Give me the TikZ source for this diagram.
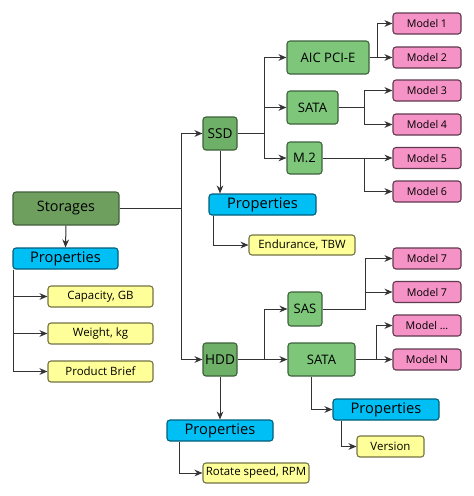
\documentclass[tikz,border=0pt]{standalone}
\usepackage{fontspec}
\setmainfont{Open Sans}
\usetikzlibrary{arrows.meta}
\definecolor{cStor}{HTML}{6E9F5F}
\definecolor{cDrive}{HTML}{6FB068}
\definecolor{cIf}{HTML}{7DC67A}
\definecolor{cProp}{HTML}{00BFF5}
\definecolor{cYel}{HTML}{FFFF99}
\definecolor{cPink}{HTML}{F592C6}
\definecolor{cLine}{HTML}{333333}
\tikzset{
  sz/.style 2 args={minimum width=#1*0.75pt, minimum height=#2*0.75pt},
  base/.style={draw, rounded corners=2.2pt, inner sep=0pt, line width=0.8pt, anchor=center},
  stor/.style={base, fill=cStor, draw=cStor!60!black, font=\fontsize{10.8}{12}\selectfont},
  drive/.style={base, fill=cDrive, draw=cDrive!55!black, font=\fontsize{10.2}{12}\selectfont},
  iface/.style={base, fill=cIf, draw=cIf!50!black, font=\fontsize{9.8}{12}\selectfont},
  prop/.style={base, fill=cProp, draw=cProp!50!black, font=\fontsize{11}{12}\selectfont},
  attr/.style={base, fill=cYel, draw=cYel!45!black, font=\fontsize{8.6}{10}\selectfont},
  model/.style={base, fill=cPink, draw=cPink!40!black, font=\fontsize{8}{10}\selectfont},
  conn/.style={draw=cLine, line width=0.75pt},
  arr/.style={conn, -{Stealth[length=6pt, width=5pt]}},
}
\begin{document}
\begin{tikzpicture}[x=0.75pt, y=-0.75pt]
\useasboundingbox[fill=white] (0,0) rectangle (474,496);
% nodes
\node[stor, sz={106}{33}] (stor) at (66,208.5) {Storages};
\node[prop, sz={105}{21}] (p0) at (65.5,258.5) {Properties};
\node[attr, sz={105}{21}] (cap) at (100.5,296.5) {Capacity, GB};
\node[attr, sz={105}{21}] (wt) at (100.5,333.5) {Weight, kg};
\node[attr, sz={105}{21}] (brief) at (100.5,371.5) {Product Brief};

\node[drive, sz={34}{33}] (ssd) at (220,133.5) {SSD};
\node[iface, sz={82}{33}] (aic) at (328,57.5) {AIC PCI-E};
\node[iface, sz={51}{33}] (sataA) at (312.5,107.5) {SATA};
\node[iface, sz={35}{32}] (mtwo) at (304.5,158) {M.2};
\node[model, sz={68}{21}] (m1) at (427,23.5) {Model 1};
\node[model, sz={68}{21}] (m2) at (427,57.5) {Model 2};
\node[model, sz={68}{21}] (m3) at (427,90.5) {Model 3};
\node[model, sz={68}{21}] (m4) at (427,124.5) {Model 4};
\node[model, sz={68}{21}] (m5) at (427,158) {Model 5};
\node[model, sz={68}{21}] (m6) at (427,191.5) {Model 6};
\node[prop, sz={107}{21}] (p1) at (262.5,204.5) {Properties};
\node[attr, sz={106}{20}] (endu) at (302,245) {Endurance, TBW};

\node[drive, sz={34}{33}] (hdd) at (220,359.5) {HDD};
\node[iface, sz={34}{34}] (sas) at (305,309) {SAS};
\node[iface, sz={67}{33}] (sataB) at (321.5,359.5) {SATA};
\node[model, sz={68}{21}] (m7a) at (427,258.5) {Model 7};
\node[model, sz={68}{21}] (m7b) at (427,292) {Model 7};
\node[model, sz={68}{21}] (mdots) at (427,325.5) {Model ...};
\node[model, sz={68}{21}] (mN) at (427,359.5) {Model N};
\node[prop, sz={106}{21}] (p2) at (220,430.5) {Properties};
\node[attr, sz={106}{20}] (rpm) at (256,473) {Rotate speed, RPM};
\node[prop, sz={106}{21}] (p3) at (386,409.5) {Properties};
\node[attr, sz={67}{21}] (ver) at (390.5,446.5) {Version};

% connectors
\draw[arr] (stor.east) -- ++(62,0) |- (ssd.west);
\draw[arr] (stor.east) -- ++(62,0) |- (hdd.west);
\draw[arr] (stor.south) -- (p0.north);
\draw[arr] ([xshift=1]p0.south west) |- (cap.west);
\draw[arr] ([xshift=1]p0.south west) |- (wt.west);
\draw[arr] ([xshift=1]p0.south west) |- (brief.west);

\draw[arr] (ssd.east) -- ++(27,0) |- (aic.west);
\draw[arr] (ssd.east) -- ++(27,0) |- (sataA.west);
\draw[arr] (ssd.east) -- ++(27,0) |- (mtwo.west);
\draw[arr] (aic.east) -- ++(8,0) |- (m1.west);
\draw[arr] (aic.east) -- (m2.west);
\draw[arr] (sataA.east) -- ++(26,0) |- (m3.west);
\draw[arr] (sataA.east) -- ++(26,0) |- (m4.west);
\draw[arr] (mtwo.east) -- (m5.west);
\draw[arr] (mtwo.east) -- ++(42,0) |- (m6.west);
\draw[arr] (ssd.south) -- (ssd.south |- p1.north);
\draw[arr] ([xshift=4]p1.south west) |- (endu.west);

\draw[arr] (hdd.east) -- ++(27,0) |- (sas.west);
\draw[arr] (hdd.east) -- (sataB.west);
\draw[arr] (sas.east) -- ++(43,0) |- (m7a.west);
\draw[arr] (sas.east) -- ++(43,0) |- (m7b.west);
\draw[arr] (sataB.east) -- ++(21,0) |- (mdots.west);
\draw[arr] (sataB.east) -- (mN.west);
\draw[arr] (hdd.south) -- (p2.north);
\draw[arr] ([xshift=10]p2.south west) |- (rpm.west);
\draw[arr] ([xshift=-7.5]sataB.south) |- (p3.west);
\draw[arr] ([xshift=7]p3.south west) |- (ver.west);
\end{tikzpicture}
\end{document}
